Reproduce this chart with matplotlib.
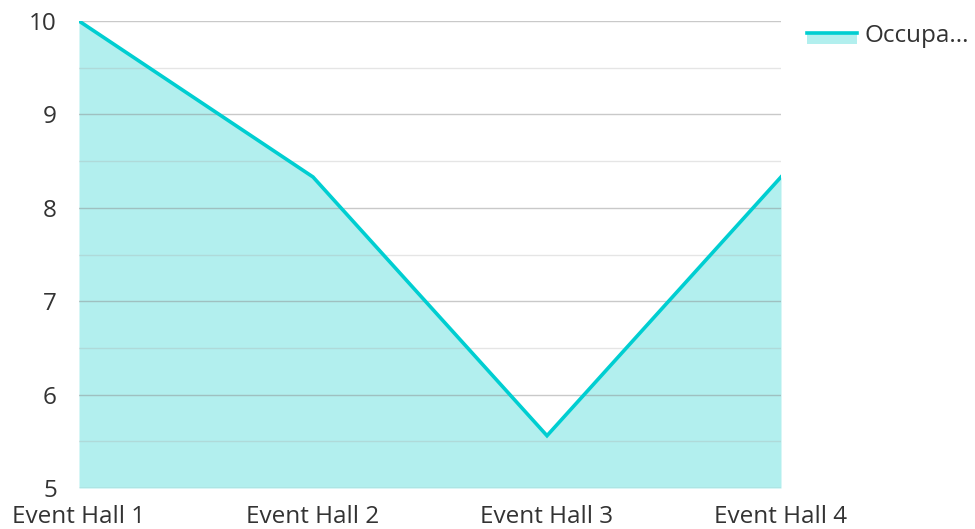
import matplotlib
matplotlib.use("Agg")
import matplotlib.pyplot as plt
from matplotlib.lines import Line2D
from matplotlib.patches import Rectangle
from matplotlib.legend_handler import HandlerBase

categories = ["Event Hall 1", "Event Hall 2", "Event Hall 3", "Event Hall 4"]
occupancy = [10, 8.33, 5.56, 8.33]
series_name = "Occupa..."

plt.rcParams['font.family'] = ['Open Sans', 'DejaVu Sans']

W, H = 975, 529
FS = 17.5
fig = plt.figure(figsize=(W/100, H/100), dpi=100)
ax = fig.add_axes([79/W, 1-488/H, (781-79)/W, (488-21)/H])

line_col = "#00CED1"
fill_col = "#B2EFEE"
x = list(range(len(categories)))
ax.fill_between(x, occupancy, 5, color=fill_col, lw=0, zorder=1)
ax.plot(x, occupancy, color=line_col, lw=2.6, zorder=3, solid_joinstyle='miter')

ax.set_xlim(0, 3)
ax.set_ylim(5, 10)
ax.set_yticks([5, 6, 7, 8, 9, 10])
ax.set_yticks([5.5, 6.5, 7.5, 8.5, 9.5], minor=True)
ax.grid(axis='y', which='major', color='#888888', alpha=0.45, lw=1, zorder=2)
ax.grid(axis='y', which='minor', color='#aaaaaa', alpha=0.3, lw=1, zorder=2)
ax.set_axisbelow(False)
for s in ax.spines.values():
    s.set_visible(False)
ax.tick_params(axis='both', which='both', length=0, labelsize=FS, colors='#333333')
ax.tick_params(axis='y', pad=16)
ax.tick_params(axis='x', pad=12)
ax.set_xticks(x)
ax.set_xticklabels(categories)

class AreaHandler(HandlerBase):
    def create_artists(self, legend, orig, xd, yd, width, height, fontsize, trans):
        ly = yd + height * 0.30
        r = Rectangle((xd, ly - height * 0.5), width, height * 0.5, facecolor=fill_col, lw=0, transform=trans)
        l = Line2D([xd, xd+width], [ly, ly], color=line_col, lw=2.6, transform=trans)
        return [r, l]

h = Rectangle((0, 0), 1, 1)
leg = fig.legend([h], [series_name], handler_map={Rectangle: AreaHandler()},
                 loc='upper left', bbox_to_anchor=(807/W, 1-23/H), frameon=False,
                 borderpad=0, borderaxespad=0,
                 fontsize=FS, handlelength=2.05, handleheight=1.0, handletextpad=0.33)
for t in leg.get_texts():
    t.set_color('#333333')

fig.savefig("out.png", dpi=100)
